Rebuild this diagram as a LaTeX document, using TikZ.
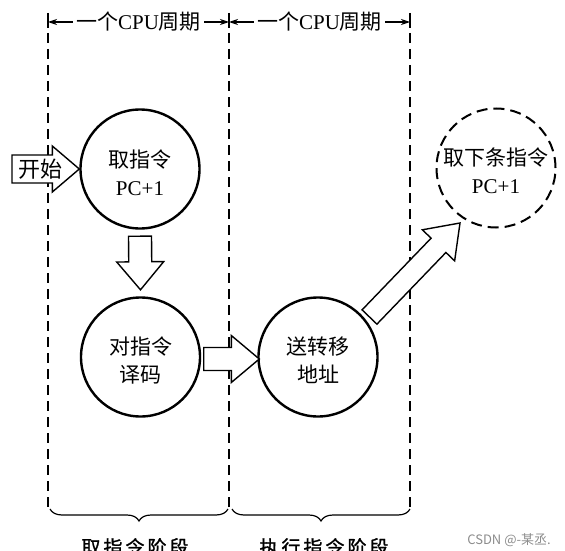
\documentclass[tikz,border=0pt]{standalone}
\usepackage{fontspec}
\setmainfont{Liberation Serif}
\newfontfamily\cjk{Noto Sans CJK SC}
\newfontfamily\cjkbold{Noto Sans CJK SC}[FakeBold=1.2]
\usetikzlibrary{calc,arrows.meta,decorations.pathreplacing}
\newcommand\blkarrow[5]{%
  \coordinate (ba-c) at ($(#2)!#5!(#1)$);
  \draw[blkarrowstyle] ($(#1)!#3!90:(#2)$) -- ($(ba-c)!#3!90:(#2)$) -- ($(ba-c)!#4!90:(#2)$) -- (#2)
    -- ($(ba-c)!#4!-90:(#2)$) -- ($(ba-c)!#3!-90:(#2)$) -- ($(#1)!#3!-90:(#2)$) -- cycle;
}
\newcommand\chsp{\hspace{3pt}}
\begin{document}
\begin{tikzpicture}[x=1pt,y=-1pt,
  circ/.style={circle,draw,line width=2.4pt,minimum size=119pt,inner sep=0pt},
  dcirc/.style={circ,line width=2pt,dash pattern=on 11pt off 6pt},
  ctext/.style={align=center,inner sep=0pt,font=\fontsize{21}{28}\selectfont},
  vline/.style={line width=1.6pt,dash pattern=on 10pt off 6pt},
  tick/.style={line width=1.6pt},
  blkarrowstyle/.style={draw,fill=white,line width=1.4pt,line join=miter},
  dimarrow/.style={line width=1.1pt,{Stealth[length=9pt,width=6pt]}-{Stealth[length=9pt,width=6pt]}},
  dimlabel/.style={fill=white,inner xsep=3pt,inner ysep=1pt,font=\fontsize{21}{21}\selectfont},
  bracestyle/.style={line width=1.2pt,decorate,decoration={brace,amplitude=12pt,mirror}},
  startlabel/.style={font=\cjk\fontsize{22}{22}\selectfont},
  phase/.style={font=\cjkbold\fontsize{19}{19}\selectfont},
  wmark/.style={text=black!45,font=\cjk\fontsize{13}{13}\selectfont}]
\useasboundingbox (0,0) rectangle (565,551);
% vertical dashed lines
\foreach \x in {48,229,410}{
  \draw[tick] (\x,13) -- (\x,28);
  \draw[vline] (\x,33) -- (\x,510);
}
% top cycle arrows
\coordinate (t1) at (48,22);
\coordinate (t2) at (229,22);
\coordinate (t3) at (410,22);
\draw[dimarrow] (t1) -- (t2) node[midway,dimlabel] (cyc1) {{\cjk 一个}CPU{\cjk 周期}};
\draw[dimarrow] (t2) -- (t3) node[midway,dimlabel] (cyc2) {{\cjk 一个}CPU{\cjk 周期}};
% circles
\node[circ] (c1) at (140,169) {};
\node[circ] (c2) at (140.5,357) {};
\node[circ] (c3) at (318,357) {};
\node[dcirc] (c4) at (496,168) {};
\node[ctext] (c1t) at ($(c1.center)+(0,3.5)$) {{\cjk 取指令}\\PC+1};
\node[ctext] (c2t) at ($(c2.center)+(0,3.5)$) {{\cjk 对指令}\\{\cjk 译码}};
\node[ctext] (c3t) at ($(c3.center)+(0,3.5)$) {{\cjk 送转移}\\{\cjk 地址}};
\node[ctext] (c4t) at ($(c4.center)+(0,3)$) {{\cjk 取下条指令}\\PC+1};
% block arrows
\coordinate (s0) at (12,169);
\blkarrow{s0}{c1.west}{14pt}{23pt}{27pt}
\node[startlabel] (start) at (40,169) {开始};
\coordinate (d0) at ($(c1.south)+(0,6.5)$);
\coordinate (d1) at ($(c2.north)+(0,-6.5)$);
\blkarrow{d0}{d1}{11.5pt}{23.5pt}{28pt}
\coordinate (r0) at ($(c2.east)+(2.5,2)$);
\coordinate (r1) at ($(c3.west)+(2,2)$);
\blkarrow{r0}{r1}{11.5pt}{23.5pt}{28pt}
\coordinate (g0) at ($(c3.center)+(51.5,-40)$);
\coordinate (g1) at ($(c4.center)+(-36,55)$);
\blkarrow{g0}{g1}{10.3pt}{22.4pt}{31pt}
% braces
\draw[bracestyle] (50,509) -- (228,509);
\draw[bracestyle] (232,509) -- (410,509);
\node[phase] (p1) at (135,547) {取\chsp 指\chsp 令\chsp 阶\chsp 段};
\node[phase] (p2) at (324,547) {执\chsp 行\chsp 指\chsp 令\chsp 阶\chsp 段};
\node[wmark] (wm) at (509,540) {CSDN @-某丞.};
\end{tikzpicture}
\end{document}
